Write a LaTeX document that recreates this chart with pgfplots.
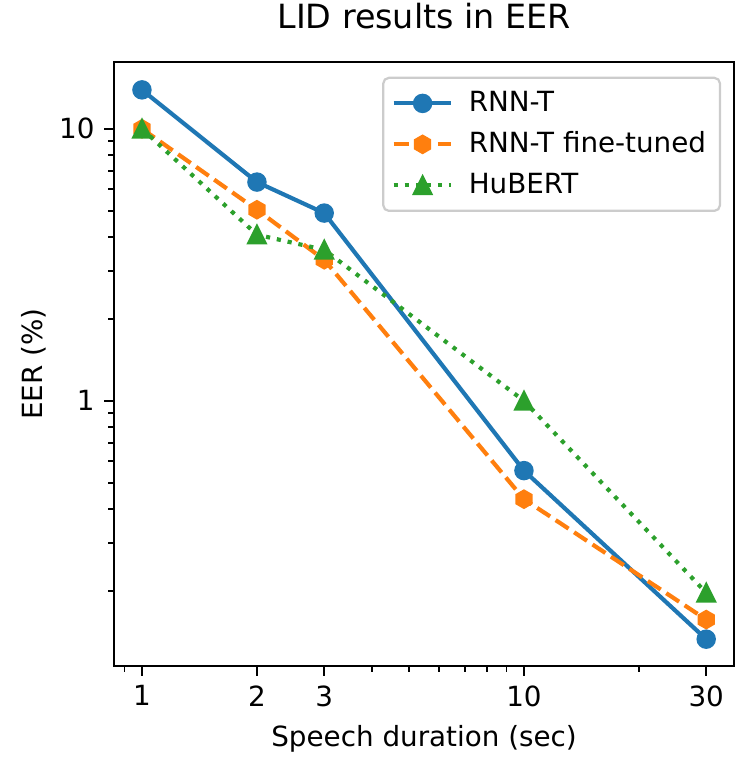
\documentclass[border=0pt]{standalone}
\usepackage{fontspec}
\setmainfont{DejaVu Sans}
\usepackage{pgfplots}
\pgfplotsset{compat=1.18}
\definecolor{C0}{HTML}{1F77B4}
\definecolor{C1}{HTML}{FF7F0E}
\definecolor{C2}{HTML}{2CA02C}
\pgfdeclareplotmark{hexagon*}{%
  \pgfpathmoveto{\pgfpointpolar{90}{\pgfplotmarksize}}%
  \pgfpathlineto{\pgfpointpolar{150}{\pgfplotmarksize}}%
  \pgfpathlineto{\pgfpointpolar{210}{\pgfplotmarksize}}%
  \pgfpathlineto{\pgfpointpolar{270}{\pgfplotmarksize}}%
  \pgfpathlineto{\pgfpointpolar{330}{\pgfplotmarksize}}%
  \pgfpathlineto{\pgfpointpolar{30}{\pgfplotmarksize}}%
  \pgfpathclose
  \pgfusepathqfillstroke}
\pgfdeclareplotmark{mpltri*}{%
  \pgfpathmoveto{\pgfpoint{0pt}{\pgfplotmarksize}}%
  \pgfpathlineto{\pgfpoint{-\pgfplotmarksize}{-\pgfplotmarksize}}%
  \pgfpathlineto{\pgfpoint{\pgfplotmarksize}{-\pgfplotmarksize}}%
  \pgfpathclose
  \pgfusepathqfillstroke}
\begin{document}
\begin{tikzpicture}
\begin{axis}[
  scale only axis,
  width=223.2pt, height=217.4pt,
  xmode=log, ymode=log,
  xmin=0.845, xmax=35.5,
  ymin=0.106, ymax=17.6,
  xtick={1,2,3,10,30},
  xticklabels={1,2,3,10,30},
  minor xtick={0.9,4,5,6,7,8,9,20},
  ytick={1,10},
  yticklabels={1,10},
  minor ytick={0.2,0.3,0.4,0.5,0.6,0.7,0.8,0.9,2,3,4,5,6,7,8,9},
  tick pos=left,
  tick align=outside,
  major tick length=3.5pt,
  minor tick length=2pt,
  every tick/.style={black, line width=0.8pt},
  minor tick style={line width=0.6pt},
  axis line style={line width=0.8pt},
  /pgf/number format/assume math mode=true,
  tick label style={font=\fontsize{10}{12}\selectfont},
  title={LID results in EER},
  title style={font=\fontsize{12}{14}\selectfont, at={(0.5,1)}, anchor=base, yshift=6.1pt},
  xlabel={Speech duration (sec)},
  xlabel style={font=\fontsize{10}{12}\selectfont, at={(0.5,0)}, anchor=base, yshift=-29pt},
  ylabel={EER (\%)},
  ylabel style={font=\fontsize{10}{12}\selectfont, at={(0,0.5)}, anchor=base, rotate=0, yshift=25.9pt},
  legend cell align=left,
  legend style={
    at={(1,1)}, anchor=north east, xshift=-4.7pt, yshift=-5.3pt,
    draw=black!20, line width=0.8pt, rounded corners=2pt,
    font=\fontsize{10}{12}\selectfont,
    row sep=1.8pt, column sep=3.5pt, inner xsep=3pt, inner ysep=2.8pt,
    nodes={inner sep=2pt},
  },
  legend image code/.code={%
    \draw[mark repeat=2,mark phase=2,#1] plot coordinates {(0pt,0pt)(10.4pt,0pt)(20.8pt,0pt)};},
]
\addplot[C0, line width=1.5pt, mark=*, mark size=3pt, mark options={solid, fill=C0, line width=1pt}]
  coordinates {(1,13.9)(2,6.37)(3,4.90)(10,0.554)(30,0.133)};
\addlegendentry{RNN-T}
\addplot[C1, line width=1.5pt, dash pattern=on 5.55pt off 2.4pt, mark=hexagon*, mark size=3pt, mark options={solid, fill=C1, line width=1pt}]
  coordinates {(1,10.0)(2,5.04)(3,3.30)(10,0.435)(30,0.157)};
\addlegendentry{RNN-T fine-tuned}
\addplot[C2, line width=1.5pt, dash pattern=on 1.5pt off 2.475pt, mark=mpltri*, mark size=3pt, mark options={solid, fill=C2, line width=1pt}]
  coordinates {(1,10.0)(2,4.08)(3,3.59)(10,1.0)(30,0.197)};
\addlegendentry{HuBERT}
\end{axis}
\pgfresetboundingbox
\path ([xshift=-41.04pt,yshift=-38.52pt]current axis.south west) rectangle ([xshift=6.84pt,yshift=22.32pt]current axis.north east);
\end{tikzpicture}
\end{document}
